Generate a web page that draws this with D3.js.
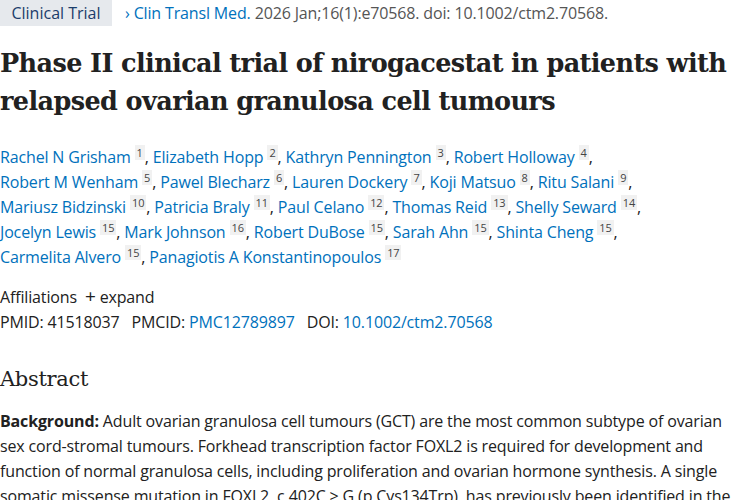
<!DOCTYPE html>
<html><head><meta charset="utf-8">
<script src="https://cdn.jsdelivr.net/npm/d3@7"></script>
<style>
body{margin:0;width:750px;height:500px;overflow:hidden;background:#fff;font-family:"Open Sans",sans-serif;color:#212121}
.ln{position:absolute;left:0;white-space:nowrap;font-size:16px;letter-spacing:-0.15px}
a{color:#0071bc;text-decoration:none}
sup{font-size:11px;background:#f1f1f1;color:#444;padding:0 2px;margin-left:4px;vertical-align:6px}
.serif{font-family:"DejaVu Serif",serif;color:#212121}
</style></head><body>
<script>
const journal = "Clin Transl Med.";
const citation = "2026 Jan;16(1):e70568. doi: 10.1002/ctm2.70568.";
const titleLines = ["Phase II clinical trial of nirogacestat in patients with", "relapsed ovarian granulosa cell tumours"];
const authorLines = [
  [["Rachel N Grisham",1],["Elizabeth Hopp",2],["Kathryn Pennington",3],["Robert Holloway",4]],
  [["Robert M Wenham",5],["Pawel Blecharz",6],["Lauren Dockery",7],["Koji Matsuo",8],["Ritu Salani",9]],
  [["Mariusz Bidzinski",10],["Patricia Braly",11],["Paul Celano",12],["Thomas Reid",13],["Shelly Seward",14]],
  [["Jocelyn Lewis",15],["Mark Johnson",16],["Robert DuBose",15],["Sarah Ahn",15],["Shinta Cheng",15]],
  [["Carmelita Alvero",15],["Panagiotis A Konstantinopoulos",17]]
];
const ids = {pmid:"41518037", pmcid:"PMC12789897", doi:"10.1002/ctm2.70568"};
const abstractLines = [
  "Adult ovarian granulosa cell tumours (GCT) are the most common subtype of ovarian",
  "sex cord-stromal tumours. Forkhead transcription factor FOXL2 is required for development and",
  "function of normal granulosa cells, including proliferation and ovarian hormone synthesis. A single",
  "somatic missense mutation in FOXL2, c.402C > G (p.Cys134Trp), has previously been identified in the"
];

const body = d3.select("body");
const line = (top) => body.append("div").attr("class","ln").style("top", top+"px");

// header row
body.append("div").style("position","absolute").style("left","0px").style("top","0px")
  .style("width","112px").style("height","26px").style("background","#e6e9ed")
  .style("color","#1b3d6b").style("font-size","16px")
  .style("line-height","26px").style("text-align","center").text("Clinical Trial");
const hd = line(2).style("left","125px").style("color","#555");
hd.append("a").html("&#x203A; "+journal);
hd.append("span").text(" "+citation);

// title
titleLines.forEach((t,i) => line(48+i*38).attr("class","ln serif")
  .style("font-size","25.5px").style("font-weight","600").style("letter-spacing","-0.6px").text(t));

// authors
authorLines.forEach((row,i) => {
  const l = line(145+i*25);
  row.forEach((a,j) => {
    l.append("a").text(a[0]);
    l.append("sup").text(a[1]);
    if (j < row.length-1 || i < authorLines.length-1) l.append("span").text(", ");
  });
});

line(283).html('Affiliations &nbsp;<span style="font-size:19px">+</span> expand');
line(311).html(`PMID: ${ids.pmid} &nbsp;&nbsp;PMCID: <a>${ids.pmcid}</a> &nbsp;&nbsp;DOI: <a>${ids.doi}</a>`);

line(367).attr("class","ln serif").style("font-size","21px").style("letter-spacing","-0.3px").text("Abstract");

abstractLines.forEach((t,i) => {
  const l = line(410+i*25);
  if (i===0) l.append("b").text("Background: ");
  l.append("span").text(t);
});
</script>
</body></html>
